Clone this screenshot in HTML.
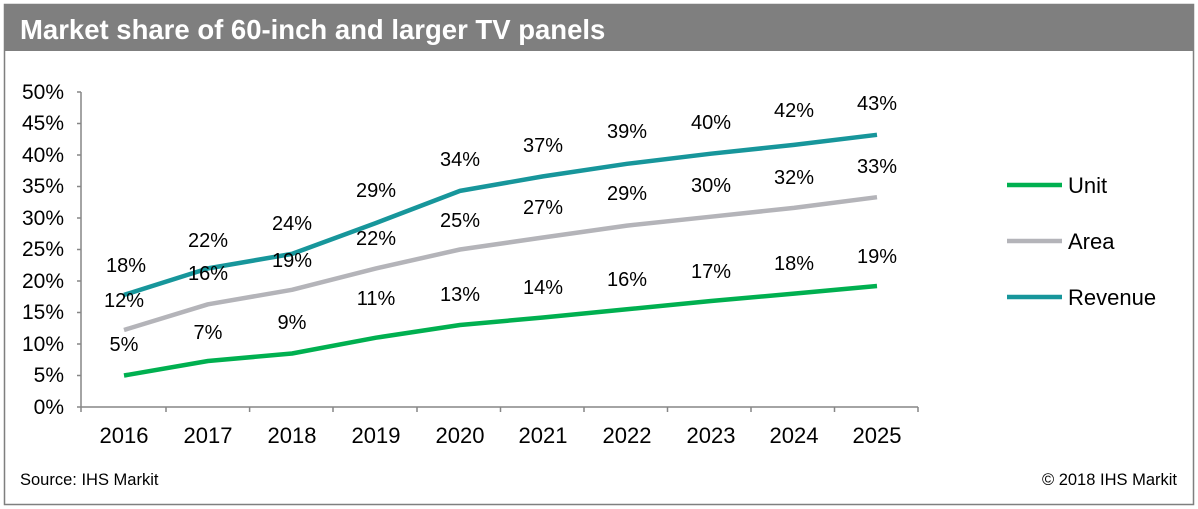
<!DOCTYPE html>
<html><head><style>body{margin:0;background:#fff}svg{display:block}text{font-family:"Liberation Sans",Arial,sans-serif}</style></head>
<body>
<svg width="1198" height="509" viewBox="0 0 1198 509">
<rect x="4.5" y="4.5" width="1189" height="500" fill="#fff" stroke="#7f7f7f" stroke-width="1.5"/>
<rect x="4" y="4" width="1190" height="47" fill="#7f7f7f"/>
<text x="20" y="39" fill="#fff" font-size="27.5" font-weight="bold">Market share of 60-inch and larger TV panels</text>
<g stroke="#868686" stroke-width="1.5" fill="none">
<line x1="81" y1="92" x2="81" y2="407"/>
<line x1="81" y1="407" x2="918" y2="407"/>
<line x1="77" y1="92" x2="81" y2="92"/><line x1="77" y1="123.5" x2="81" y2="123.5"/><line x1="77" y1="155" x2="81" y2="155"/><line x1="77" y1="186.5" x2="81" y2="186.5"/><line x1="77" y1="218" x2="81" y2="218"/><line x1="77" y1="249.5" x2="81" y2="249.5"/><line x1="77" y1="281" x2="81" y2="281"/><line x1="77" y1="312.5" x2="81" y2="312.5"/><line x1="77" y1="344" x2="81" y2="344"/><line x1="77" y1="375.5" x2="81" y2="375.5"/><line x1="77" y1="407" x2="81" y2="407"/>
<line x1="81" y1="407" x2="81" y2="412"/><line x1="166" y1="407" x2="166" y2="412"/><line x1="249.6" y1="407" x2="249.6" y2="412"/><line x1="333" y1="407" x2="333" y2="412"/><line x1="417" y1="407" x2="417" y2="412"/><line x1="500.5" y1="407" x2="500.5" y2="412"/><line x1="584" y1="407" x2="584" y2="412"/><line x1="667.5" y1="407" x2="667.5" y2="412"/><line x1="751" y1="407" x2="751" y2="412"/><line x1="834.5" y1="407" x2="834.5" y2="412"/><line x1="918" y1="407" x2="918" y2="412"/>
</g>
<g font-size="21" fill="#000" text-anchor="end">
<text x="64" y="99">50%</text><text x="64" y="130">45%</text><text x="64" y="162">40%</text><text x="64" y="193">35%</text><text x="64" y="225">30%</text><text x="64" y="256">25%</text><text x="64" y="288">20%</text><text x="64" y="319">15%</text><text x="64" y="351">10%</text><text x="64" y="382">5%</text><text x="64" y="414">0%</text>
</g>
<g font-size="22" fill="#000" text-anchor="middle">
<text x="124" y="443">2016</text><text x="208" y="443">2017</text><text x="292" y="443">2018</text><text x="376" y="443">2019</text><text x="460" y="443">2020</text><text x="543" y="443">2021</text><text x="627" y="443">2022</text><text x="711" y="443">2023</text><text x="794" y="443">2024</text><text x="877" y="443">2025</text>
</g>
<g fill="none" stroke-width="4.5" stroke-linejoin="round">
<polyline stroke="#00b050" points="124,375.5 208,361 292,353.5 376,337.7 460,325 543,317.5 627,309.3 711,301 794,293.6 877,286"/>
<polyline stroke="#b4b4b9" points="124,330 208,304.3 292,289.8 376,268.4 460,249.5 543,237.5 627,225.6 711,216.7 794,207.9 877,197.2"/>
<polyline stroke="#17969b" points="124,294.9 208,268.4 292,253.9 376,223 460,190.9 543,176.4 627,163.8 711,153.7 794,144.9 877,134.8"/>
</g>
<g font-size="20" fill="#000" text-anchor="middle">
<text x="126" y="272">18%</text><text x="208" y="247">22%</text><text x="292" y="230">24%</text><text x="376" y="197">29%</text><text x="460" y="166">34%</text><text x="543" y="152">37%</text><text x="627" y="138">39%</text><text x="711" y="129">40%</text><text x="794" y="117">42%</text><text x="877" y="110">43%</text>
<text x="124" y="307">12%</text><text x="208" y="280">16%</text><text x="292" y="267">19%</text><text x="376" y="245">22%</text><text x="460" y="227">25%</text><text x="543" y="214">27%</text><text x="627" y="200">29%</text><text x="711" y="192">30%</text><text x="794" y="184">32%</text><text x="877" y="173">33%</text>
<text x="124" y="351">5%</text><text x="208" y="339">7%</text><text x="292" y="329">9%</text><text x="376" y="305">11%</text><text x="460" y="301">13%</text><text x="543" y="294">14%</text><text x="627" y="286">16%</text><text x="711" y="278">17%</text><text x="794" y="270">18%</text><text x="877" y="263">19%</text>
</g>
<g stroke-width="4.5">
<line x1="1007" y1="185" x2="1062" y2="185" stroke="#00b050"/>
<line x1="1007" y1="241" x2="1062" y2="241" stroke="#b4b4b9"/>
<line x1="1007" y1="297" x2="1062" y2="297" stroke="#17969b"/>
</g>
<g font-size="22" fill="#000">
<text x="1068" y="193">Unit</text><text x="1068" y="249">Area</text><text x="1068" y="305">Revenue</text>
</g>
<text x="20" y="485" font-size="16.5" fill="#000">Source: IHS Markit</text>
<text x="1177" y="485" font-size="16.5" fill="#000" text-anchor="end">© 2018 IHS Markit</text>
</svg>
</body></html>
